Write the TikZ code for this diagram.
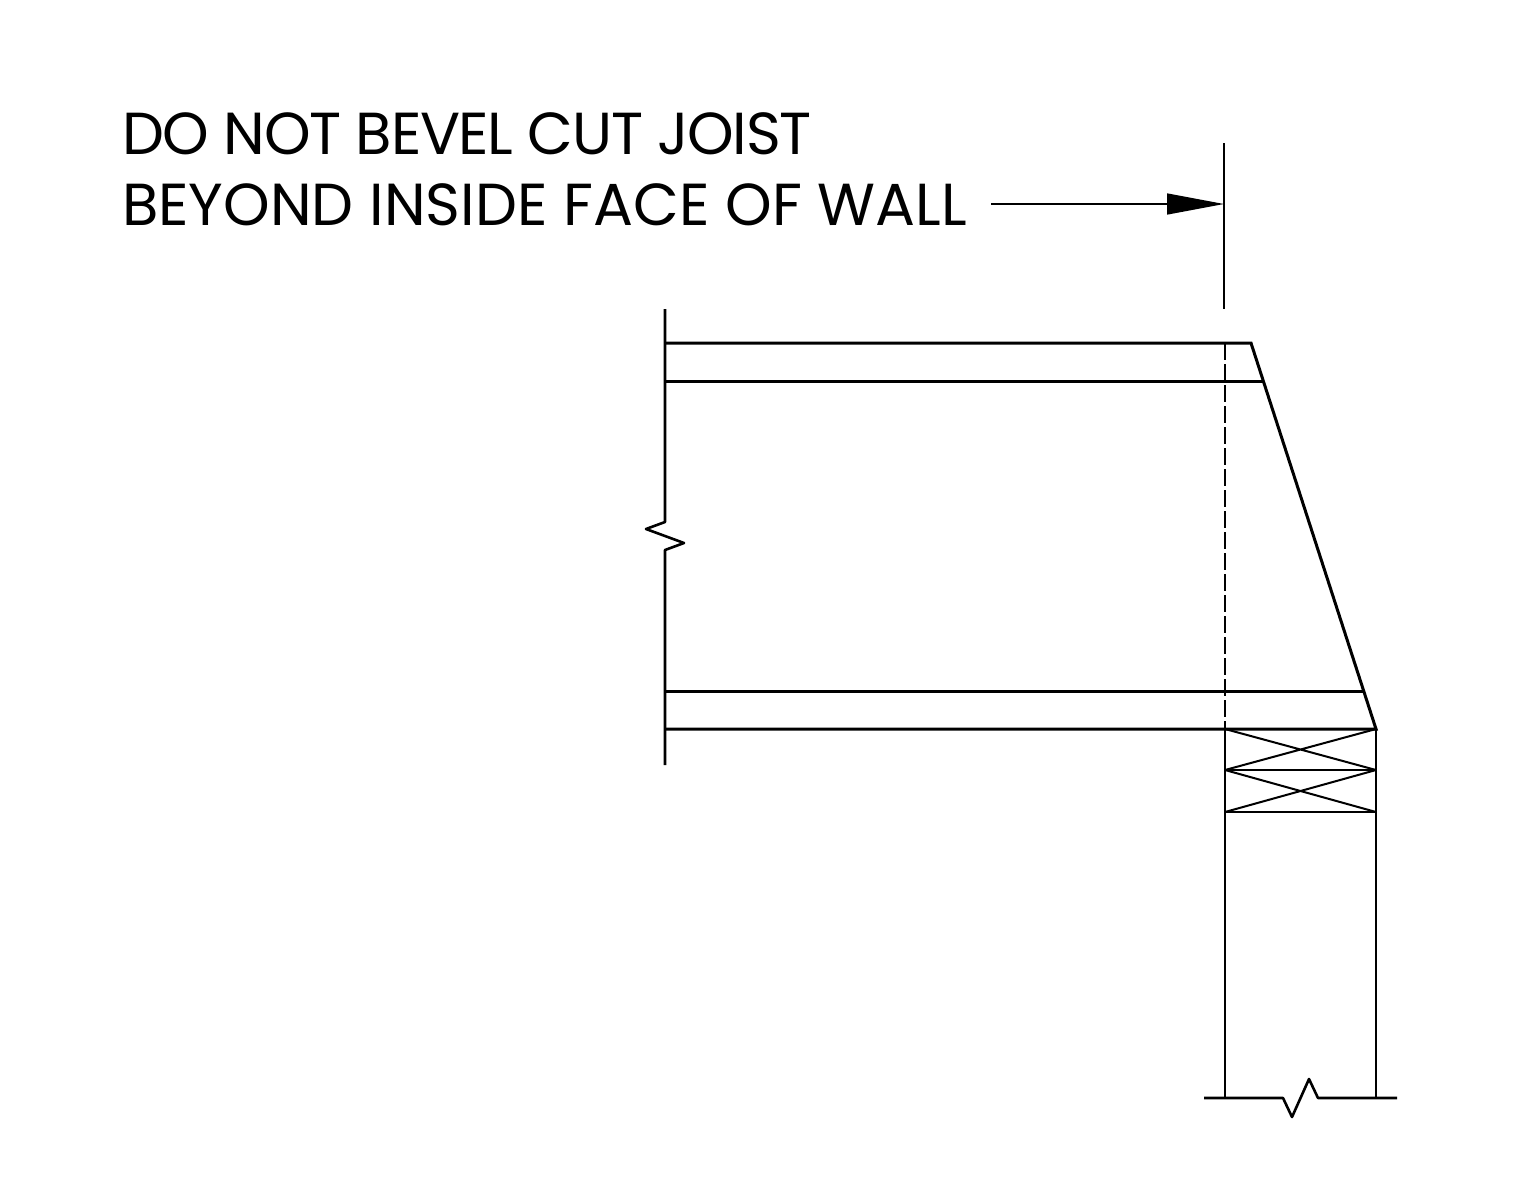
\documentclass[tikz,border=0pt]{standalone}
\usepackage{fontspec}
\setmainfont{Poppins}
\usepackage{tikz}
\usetikzlibrary{arrows.meta,positioning}

\begin{document}
\begin{tikzpicture}[
        x=1pt, y=-1pt,
        heavy/.style={line width=3pt, black},
        thin line/.style={line width=2pt, black},
        breakline/.style={line width=2.6pt, black, line join=round},
        note/.style={inner sep=0pt, anchor=base west, font=\fontsize{59.3}{72}\selectfont}
        ]
        \useasboundingbox (0,0) rectangle (1536,1187);

        %Text
        \node[note] (line1) at (122,154) {\addfontfeature{LetterSpace=-2.3}DO NOT BEVEL CUT JOIST};
        \node[note] (line2) at (122,225) {BEYOND INSIDE FACE OF WALL};

        %Points
        \coordinate (arrowStart) at (991,204);
        \coordinate (faceTop) at (1224,143);
        \coordinate (faceArrow) at (1224,204);
        \coordinate (faceEnd) at (1224,309);
        \coordinate (endTop) at (665,309);
        \coordinate (endBreakA) at (665,522);
        \coordinate (endBreakB) at (646,529);
        \coordinate (endBreakC) at (684,543);
        \coordinate (endBreakD) at (665,550);
        \coordinate (endBottom) at (665,765);
        \coordinate (topA) at (665,343);
        \coordinate (topB) at (1251,343);
        \coordinate (flangeA) at (665,381);
        \coordinate (flangeB) at (1263,381);
        \coordinate (lowA) at (665,691);
        \coordinate (lowB) at (1364,691);
        \coordinate (botA) at (665,729);
        \coordinate (botB) at (1376,729);
        \coordinate (dashTop) at (1225,343);
        \coordinate (dashBot) at (1225,729);
        \coordinate (plateA) at (1225,770);
        \coordinate (plateB) at (1376,770);
        \coordinate (plateC) at (1225,812);
        \coordinate (plateD) at (1376,812);
        \coordinate (wallL) at (1225,1098);
        \coordinate (wallR) at (1376,1098);
        \coordinate (baseA) at (1204,1098);
        \coordinate (baseB) at (1283,1098);
        \coordinate (baseC) at (1292,1117);
        \coordinate (baseD) at (1309,1079);
        \coordinate (baseE) at (1318,1098);
        \coordinate (baseF) at (1397,1098);

        %Lines
        \draw[line width=1.5pt, -{Triangle[length=57pt,width=21pt]}] (arrowStart) -- (faceArrow);
        \draw[thin line] (faceTop) -- (faceEnd);
        \draw[breakline] (endTop) -- (endBreakA) -- (endBreakB) -- (endBreakC) -- (endBreakD) -- (endBottom);
        \draw[heavy, line join=miter] (topA) -- (topB) -- (botB) -- (botA);
        \draw[heavy] (flangeA) -- (flangeB);
        \draw[heavy] (lowA) -- (lowB);
        \draw[thin line, dash pattern=on 17pt off 4pt] (dashTop) -- (dashBot);
        \draw[thin line] (dashBot) -- (wallL);
        \draw[thin line] (botB) -- (wallR);
        \draw[thin line] (plateA) -- (plateB);
        \draw[thin line] (plateC) -- (plateD);
        \draw[thin line] (dashBot) -- (plateB) (botB) -- (plateA);
        \draw[thin line] (plateA) -- (plateD) (plateB) -- (plateC);
        \draw[breakline] (baseA) -- (baseB) -- (baseC) -- (baseD) -- (baseE) -- (baseF);
\end{tikzpicture}
\end{document}
